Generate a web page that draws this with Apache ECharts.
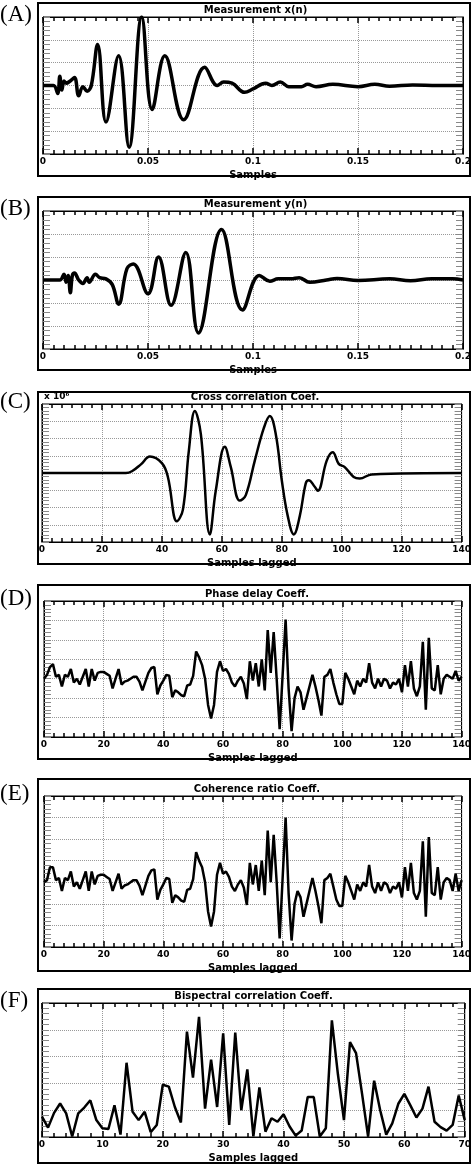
<!DOCTYPE html>
<html>
<head>
<meta charset="utf-8">
<script src="https://cdn.jsdelivr.net/npm/echarts@6/dist/echarts.min.js"></script>
<style>
  html, body { margin: 0; padding: 0; background: #fff; }
  #chart { width: 474px; height: 1164px; }
</style>
</head>
<body>
<div id="chart"></div>
<script>
// (A) measurement x(n)
var aTime = [0, 0.005, 0.007, 0.008, 0.009, 0.010, 0.011, 0.013, 0.015, 0.017, 0.019, 0.021, 0.023, 0.026, 0.030, 0.036, 0.041, 0.047, 0.052, 0.058, 0.067, 0.077, 0.083, 0.086, 0.090, 0.096, 0.100, 0.106, 0.109, 0.113, 0.117, 0.123, 0.126, 0.130, 0.138, 0.150, 0.158, 0.165, 0.176, 0.188, 0.2]
var aValue = [0, 0, -0.35, 0.4, -0.2, 0.2, 0.1, 0.2, 0.35, -0.45, -0.05, -0.25, 0, 1.8, -1.6, 1.3, -2.7, 3.0, -1.05, 1.3, -1.5, 0.8, 0, 0.15, 0.1, -0.3, -0.15, 0.1, 0, 0.15, -0.05, -0.05, 0.05, -0.05, 0.05, -0.05, 0.05, -0.03, 0.02, 0, 0]

// (B) measurement y(n)
var bTime = [0, 0.008, 0.010, 0.011, 0.012, 0.013, 0.014, 0.015, 0.017, 0.019, 0.021, 0.022, 0.025, 0.027, 0.030, 0.033, 0.036, 0.040, 0.043, 0.050, 0.055, 0.061, 0.068, 0.074, 0.085, 0.095, 0.103, 0.108, 0.112, 0.118, 0.122, 0.127, 0.135, 0.140, 0.150, 0.165, 0.175, 0.185, 0.195, 0.2]
var bValue = [0, 0, 0.25, -0.1, 0.2, -0.55, 0.2, 0.3, 0, -0.15, 0.1, -0.1, 0.25, 0.1, 0.05, -0.2, -1.05, 0.5, 0.7, -0.6, 1.0, -1.1, 1.2, -2.3, 2.2, -1.3, 0.2, -0.05, 0.05, 0.05, 0.1, -0.1, 0, 0.07, -0.02, 0.05, -0.03, 0.05, 0.05, 0]

// (C) cross correlation (x 10^6)
var cLag = [0, 28, 30, 33, 36, 40, 42, 45, 47, 49, 51, 53, 56, 58, 61, 63, 66, 68, 71, 74, 76, 78, 80, 82, 84, 86, 88, 89, 91, 92, 95, 97, 99, 101, 104, 106, 110, 140]
var cValue = [0, 0, 0.1, 0.5, 0.95, 0.57, -0.23, -2.8, -2.14, 1.3, 3.6, 2.25, -3.56, -1.0, 1.52, 0.34, -1.6, -1.28, 0.72, 2.6, 3.3, 2.25, -0.42, -2.5, -3.56, -2.5, -0.6, -0.42, -0.8, -1.03, 0.72, 1.2, 0.53, 0.34, -0.23, -0.32, -0.08, 0]

// (D) phase delay, lag 0..140
var phaseDelay = [3.0, 3.2, 3.6, 3.75, 3.1, 3.2, 2.6, 3.2, 3.1, 3.5, 2.8, 3.0, 2.7, 3.1, 3.5, 2.6, 3.5, 2.9, 3.3, 3.35,
  3.35, 3.25, 3.15, 2.5, 3.0, 3.5, 2.7, 2.85, 2.9, 3.0, 3.1, 3.1, 2.85, 2.4, 2.85, 3.3, 3.55, 3.6, 2.2, 2.65,
  2.9, 3.2, 3.15, 2.05, 2.4, 2.3, 2.15, 2.1, 2.65, 2.7, 3.15, 4.4, 4.1, 3.7, 3.0, 1.65, 0.95, 1.65, 3.35, 3.9,
  3.4, 3.5, 3.25, 2.8, 2.6, 2.9, 3.1, 2.75, 1.95, 3.9, 2.9, 3.8, 2.6, 4.0, 2.4, 5.5, 3.3, 5.4, 3.0, 0.4,
  3.2, 6.05, 2.5, 0.3, 2.0, 2.6, 2.3, 1.4, 2.0, 2.6, 3.2, 2.6, 1.9, 1.1, 3.1, 3.2, 3.5, 2.8, 2.2, 1.7,
  1.7, 3.3, 3.0, 2.6, 2.2, 2.9, 2.6, 3.0, 2.8, 3.8, 2.8, 2.5, 3.0, 2.6, 3.0, 2.9, 2.5, 2.8, 2.7, 3.0,
  2.3, 3.7, 2.6, 3.9, 2.5, 2.1, 2.6, 4.9, 1.4, 5.1, 2.5, 2.4, 3.7, 2.2, 3.0, 3.2, 3.1, 3.0, 3.4, 2.9, 3.1]

// (E) coherence ratio, lag 0..140
var coherence = [3.0, 3.1, 3.7, 3.7, 3.1, 3.2, 2.6, 3.2, 3.1, 3.5, 2.8, 3.0, 2.7, 3.1, 3.5, 2.6, 3.5, 2.9, 3.3, 3.35,
  3.35, 3.25, 3.15, 2.6, 3.0, 3.4, 2.7, 2.85, 2.9, 3.0, 3.1, 3.1, 2.85, 2.4, 2.85, 3.3, 3.55, 3.6, 2.2, 2.65,
  2.9, 3.2, 3.15, 2.05, 2.4, 2.3, 2.15, 2.1, 2.65, 2.7, 3.15, 4.4, 4.0, 3.7, 3.0, 1.65, 0.95, 1.65, 3.35, 3.9,
  3.4, 3.5, 3.25, 2.8, 2.6, 2.9, 3.1, 2.75, 1.95, 3.9, 2.9, 3.8, 2.6, 4.0, 2.4, 5.4, 3.0, 5.2, 3.0, 0.4,
  3.2, 6.0, 2.5, 0.3, 2.0, 2.6, 2.3, 1.4, 2.0, 2.6, 3.2, 2.6, 1.9, 1.1, 3.1, 3.2, 3.4, 2.8, 2.2, 1.9,
  1.9, 3.3, 3.0, 2.6, 2.2, 2.9, 2.6, 3.0, 2.8, 3.8, 2.8, 2.5, 3.0, 2.6, 3.0, 2.9, 2.5, 2.8, 2.7, 3.0,
  2.3, 3.7, 2.6, 3.9, 2.5, 2.2, 2.6, 4.9, 1.4, 5.1, 2.5, 2.4, 3.7, 2.2, 3.0, 3.2, 3.1, 2.6, 3.4, 2.6, 3.1]

// (F) bispectral correlation, lag 0..70
var bispectral = [0.76, 0.35, 0.9, 1.25, 0.88, 0.02, 0.88, 1.1, 1.37, 0.63, 0.33, 0.3, 1.18, 0.09, 2.77, 0.94, 0.63, 0.94, 0.18, 0.45,
  1.95, 1.88, 1.12, 0.54, 3.93, 2.22, 4.48, 1.06, 2.89, 1.12, 3.87, 0.45, 3.9, 1.0, 2.52, 0.02, 1.85, 0.2, 0.7, 0.57,
  0.85, 0.39, 0.05, 0.24, 1.49, 1.49, 0.02, 0.33, 4.35, 2.34, 0.63, 3.54, 3.13, 1.61, 0.02, 2.1, 1.0, 0.09, 0.51, 1.24,
  1.61, 1.18, 0.73, 1.06, 1.88, 0.57, 0.37, 0.24, 0.45, 1.55, 0.63]

function zip(xs, ys) {
  return xs.map(function (x, i) { return [x, ys[i]] })
}
function byIndex(ys) {
  return ys.map(function (y, i) { return [i, y] })
}

var panels = [
  { tag: '(A)', title: 'Measurement x(n)', xName: 'Samples', box: [38, 3, 432, 173], top: 17, bottom: 154, left: 43, right: 468,
    xMax: 0.2, xInt: 0.05, xMinor: 10, yMin: -3, yMax: 3, data: zip(aTime, aValue), smooth: 0.4, width: 3.5 },
  { tag: '(B)', title: 'Measurement y(n)', xName: 'Samples', box: [38, 197, 432, 173], top: 211, bottom: 349, left: 43, right: 468,
    xMax: 0.2, xInt: 0.05, xMinor: 10, yMin: -3, yMax: 3, data: zip(bTime, bValue), smooth: 0.4, width: 3.5 },
  { tag: '(C)', title: 'Cross correlation Coef.', xName: 'Samples lagged', box: [38, 392, 432, 172], top: 404, bottom: 542, left: 42, right: 468,
    xMax: 140, xInt: 20, xMinor: 6, yMin: -4, yMax: 4, data: zip(cLag, cValue), smooth: 0.4, width: 2.5, exp: true },
  { tag: '(D)', title: 'Phase delay Coeff.', xName: 'Samples lagged', box: [38, 585, 432, 174], top: 601, bottom: 737, left: 44, right: 470,
    xMax: 140, xInt: 20, xMinor: 6, yMin: 0, yMax: 7, data: byIndex(phaseDelay), smooth: false, width: 2.5 },
  { tag: '(E)', title: 'Coherence ratio Coeff.', xName: 'Samples lagged', box: [38, 779, 432, 192], top: 796, bottom: 947, left: 44, right: 470,
    xMax: 140, xInt: 20, xMinor: 6, yMin: 0, yMax: 7, data: byIndex(coherence), smooth: false, width: 2.5 },
  { tag: '(F)', title: 'Bispectral correlation Coeff.', xName: 'Samples lagged', box: [38, 989, 432, 174], top: 1003, bottom: 1141, left: 42, right: 465,
    xMax: 70, xInt: 10, xMinor: 5, yMin: 0, yMax: 5, data: byIndex(bispectral), smooth: false, width: 2.5 }
]

var boldFont = 'DejaVu Sans'
var grid = [], xAxis = [], yAxis = [], series = [], graphic = []

panels.forEach(function (p, i) {
  grid.push({ left: p.left, top: p.top, width: p.right - p.left, height: p.bottom - p.top, show: true, borderColor: '#000', borderWidth: 1 })
  var tick = { show: true, inside: true, length: 6, lineStyle: { color: '#000', width: 1.5 } }
  var xBase = {
    type: 'value', gridIndex: i, min: 0, max: p.xMax, interval: p.xInt,
    axisLine: { show: true, onZero: false, lineStyle: { color: '#000' } },
    axisTick: tick,
    minorTick: { show: true, splitNumber: p.xMinor, length: 4, lineStyle: { color: '#000', width: 1.5 } }
  }
  xAxis.push(Object.assign({}, xBase, {
    position: 'bottom',
    splitLine: { show: true, lineStyle: { color: '#999', type: 'dotted' } },
    axisLabel: { show: true, color: '#000', fontFamily: boldFont, fontWeight: 'bold', fontSize: 9, margin: 3 },
    name: p.xName, nameLocation: 'middle', nameGap: 16,
    nameTextStyle: { color: '#000', fontFamily: boldFont, fontWeight: 'bold', fontSize: 10 }
  }))
  xAxis.push(Object.assign({}, xBase, { position: 'top', splitLine: { show: false }, axisLabel: { show: false } }))
  var yBase = {
    type: 'value', gridIndex: i, min: p.yMin, max: p.yMax, interval: 1,
    axisLine: { show: true, onZero: false, lineStyle: { color: '#000' } },
    axisTick: { show: true, inside: true, length: 7, lineStyle: { color: '#888' } },
    minorTick: { show: true, splitNumber: 5, length: 7, lineStyle: { color: '#888' } },
    axisLabel: { show: false }
  }
  yAxis.push(Object.assign({}, yBase, { position: 'left', splitLine: { show: true, lineStyle: { color: '#999', type: 'dotted' } } }))
  yAxis.push(Object.assign({}, yBase, { position: 'right', splitLine: { show: false } }))

  series.push({
    type: 'line', xAxisIndex: 2 * i, yAxisIndex: 2 * i, data: p.data, smooth: p.smooth,
    showSymbol: false, lineStyle: { color: '#000', width: p.width }
  })

  // outer frame, panel tag, title
  graphic.push({ type: 'rect', shape: { x: p.box[0], y: p.box[1], width: p.box[2], height: p.box[3] },
    style: { fill: 'none', stroke: '#000', lineWidth: 2 } })
  graphic.push({ type: 'text', x: 0, y: p.top - 14, style: { text: p.tag, fill: '#000', font: '23px "Liberation Serif"' } })
  graphic.push({ type: 'text', x: (p.left + p.right) / 2, y: p.top - 12,
    style: { text: p.title, fill: '#000', font: 'bold 10px "DejaVu Sans"', textAlign: 'center' } })
  if (p.exp) {
    graphic.push({ type: 'text', x: p.left + 2, y: p.top - 12, style: { text: 'x 10⁶', fill: '#000', font: 'bold 9px "DejaVu Sans"' } })
  }
})

var myEcharts = echarts.init(document.getElementById('chart'))
myEcharts.setOption({
  animation: false,
  backgroundColor: '#fff',
  grid: grid,
  xAxis: xAxis,
  yAxis: yAxis,
  series: series,
  graphic: graphic
})
</script>
</body>
</html>
